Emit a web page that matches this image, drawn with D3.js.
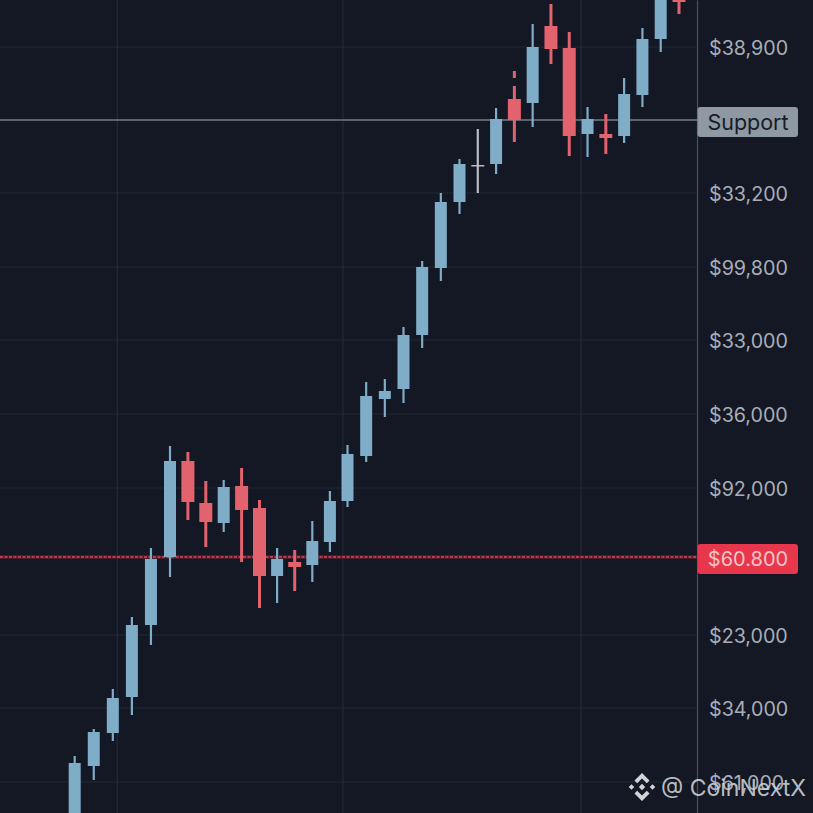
<!DOCTYPE html>
<html>
<head>
<meta charset="utf-8">
<title>Candles</title>
<script src="https://d3js.org/d3.v7.min.js"></script>
<style>
    html, body { margin: 0; padding: 0; background: #131824; overflow: hidden; }
    svg { display: block; }
    text { font-family: 'Inter', sans-serif; }
</style>
</head>
<body>
<div id="chart"></div>
<script>
// candle values (price levels, the printed axis labels are not monotonic)
var open  = [-17, 47, 80, 116, 188, 256, 352, 310, 290, 327, 305, 237, 251, 248, 271, 312, 357, 414, 424, 478, 545, 611, 648, 649, 714, 710, 787, 765, 679, 679, 677, 718, 774, 818];
var close = [50, 81, 115, 188, 254, 352, 311, 291, 326, 303, 237, 254, 246, 272, 312, 359, 417, 422, 478, 546, 611, 649, 648, 694, 693, 766, 764, 677, 694, 675, 719, 774, 843, 811];
var high  = [57, 84, 124, 196, 265, 367, 361, 332, 333, 345, 313, 265, 263, 292, 322, 368, 431, 434, 486, 552, 620, 654, 684, 705, 727, 789, 809, 781, 706, 699, 735, 785, 860, 830];
var low   = [-30, 33, 72, 98, 168, 236, 293, 266, 281, 251, 205, 210, 222, 231, 261, 306, 351, 396, 410, 465, 532, 599, 620, 639, 671, 686, 749, 657, 656, 659, 670, 706, 761, 799];

// detached bit of wick above one candle
var spikeCandle = [24];
var spikeTop = [742];
var spikeBottom = [735];

var tickLevels = [766, 620, 546, 473, 399, 325, 178, 105, 31];
var tickLabels = ["$38,900", "$33,200", "$99,800", "$33,000", "$36,000", "$92,000", "$23,000", "$34,000", "$61,000"];
var timeGrid = [2.23, 14.74, 27.64];

var supportLevel = 693, supportLabel = "Support";
var priceLevel = 256, priceLabel = "$60.800";

var width = 813, height = 813, axisX = 697;
var blue = "#7facc7", red = "#e2626d", doji = "#b9bcc4";

// candle spacing drifts a little across the picture, so the time scale is piecewise
var xScale = d3.scaleLinear()
    .domain([0, 5, 10, 15, 21, 33])
    .range([74.7, 170, 259.5, 347.5, 459.5, 679]);
var yScale = d3.scaleLinear().domain([0, 813]).range([813, 0]);

var svg = d3.select("#chart").append("svg")
    .attr("width", width)
    .attr("height", height);

svg.append("rect").attr("width", width).attr("height", height).attr("fill", "#131824");

// grid
svg.append("g").selectAll("line")
    .data(tickLevels)
    .enter().append("line")
    .attr("x1", 0).attr("x2", axisX)
    .attr("y1", function (d) { return yScale(d); })
    .attr("y2", function (d) { return yScale(d); })
    .attr("stroke", "#212632").attr("stroke-width", 1);

svg.append("g").selectAll("line")
    .data(timeGrid)
    .enter().append("line")
    .attr("x1", function (d) { return xScale(d); })
    .attr("x2", function (d) { return xScale(d); })
    .attr("y1", 0).attr("y2", height)
    .attr("stroke", "#272d3a").attr("stroke-width", 1);

// support + last price lines
svg.append("line")
    .attr("x1", 0).attr("x2", axisX)
    .attr("y1", yScale(supportLevel)).attr("y2", yScale(supportLevel))
    .attr("stroke", "#767b83").attr("stroke-width", 1.5);

svg.append("line")
    .attr("x1", 0).attr("x2", axisX)
    .attr("y1", yScale(priceLevel)).attr("y2", yScale(priceLevel))
    .attr("stroke", "#4a1c2a").attr("stroke-width", 4);
svg.append("line")
    .attr("x1", 0).attr("x2", axisX)
    .attr("y1", yScale(priceLevel)).attr("y2", yScale(priceLevel))
    .attr("stroke", "#e2445a").attr("stroke-width", 1.3)
    .attr("stroke-dasharray", "3,1.5");

// candles
function candleColor(i) {
    if (open[i] === close[i]) return doji;
    return close[i] > open[i] ? blue : red;
}

var candles = svg.append("g").selectAll("g")
    .data(d3.range(open.length))
    .enter().append("g");

candles.append("line")
    .attr("x1", function (i) { return xScale(i); })
    .attr("x2", function (i) { return xScale(i); })
    .attr("y1", function (i) { return yScale(high[i]); })
    .attr("y2", function (i) { return yScale(low[i]); })
    .attr("stroke", candleColor)
    .attr("stroke-width", function (i) { return close[i] < open[i] ? 3 : 2.2; });

candles.append("rect")
    .attr("x", function (i) { return xScale(i) - (close[i] <= open[i] ? 6.5 : 6); })
    .attr("width", function (i) { return close[i] <= open[i] ? 13 : 12; })
    .attr("y", function (i) { return yScale(Math.max(open[i], close[i])); })
    .attr("height", function (i) { return Math.max(1.5, Math.abs(yScale(open[i]) - yScale(close[i]))); })
    .attr("fill", candleColor);

svg.append("g").selectAll("line")
    .data(spikeCandle)
    .enter().append("line")
    .attr("x1", function (i) { return xScale(i); })
    .attr("x2", function (i) { return xScale(i); })
    .attr("y1", function (i, n) { return yScale(spikeTop[n]); })
    .attr("y2", function (i, n) { return yScale(spikeBottom[n]); })
    .attr("stroke", red).attr("stroke-width", 3);

// right axis
var yAxis = d3.axisRight(yScale)
    .tickValues(tickLevels)
    .tickFormat(function (d, i) { return tickLabels[i]; })
    .tickSize(0)
    .tickPadding(12);

var axisG = svg.append("g")
    .attr("transform", "translate(" + axisX + ",0)")
    .call(yAxis);
axisG.select(".domain").attr("stroke", "#4a4f5a").attr("stroke-width", 1.2);
axisG.selectAll("text")
    .attr("fill", "#a9aeb6")
    .attr("dy", "0.37em")
    .style("font-family", "'Inter', sans-serif")
    .style("font-size", "19.7px");

// price tags
function tag(level, label, fill, color, size) {
    var y = yScale(level);
    svg.append("rect")
        .attr("x", axisX + 0.5).attr("y", y - 13)
        .attr("width", 100.5).attr("height", 30)
        .attr("rx", 3)
        .attr("fill", fill);
    svg.append("text")
        .attr("x", axisX + 51).attr("y", y + 2)
        .attr("dy", "0.35em")
        .attr("text-anchor", "middle")
        .attr("fill", color)
        .style("font-size", size + "px")
        .text(label);
}
tag(supportLevel, supportLabel, "#8f99a3", "#171c28", 21.5);
tag(priceLevel, priceLabel, "#e8374c", "#f3c3c8", 20);

// watermark
var mark = svg.append("g").attr("transform", "translate(642,787)").attr("fill", "#d2d4d8");
mark.append("path").attr("d", "M0,-14 L7.5,-6.5 L4.8,-3.8 L0,-8.6 L-4.8,-3.8 L-7.5,-6.5 Z");
mark.append("path").attr("d", "M0,14 L7.5,6.5 L4.8,3.8 L0,8.6 L-4.8,3.8 L-7.5,6.5 Z");
mark.append("path").attr("d", "M0,-3.2 L3.2,0 L0,3.2 L-3.2,0 Z");
mark.append("path").attr("d", "M-10.5,-2.8 L-7.7,0 L-10.5,2.8 L-13.3,0 Z");
mark.append("path").attr("d", "M10.5,-2.8 L13.3,0 L10.5,2.8 L7.7,0 Z");

svg.append("text")
    .attr("x", 661).attr("y", 796)
    .attr("fill", "#d2d4d8").attr("fill-opacity", 0.88)
    .style("font-size", "23px")
    .text("@ CoinNextX");
</script>
</body>
</html>
